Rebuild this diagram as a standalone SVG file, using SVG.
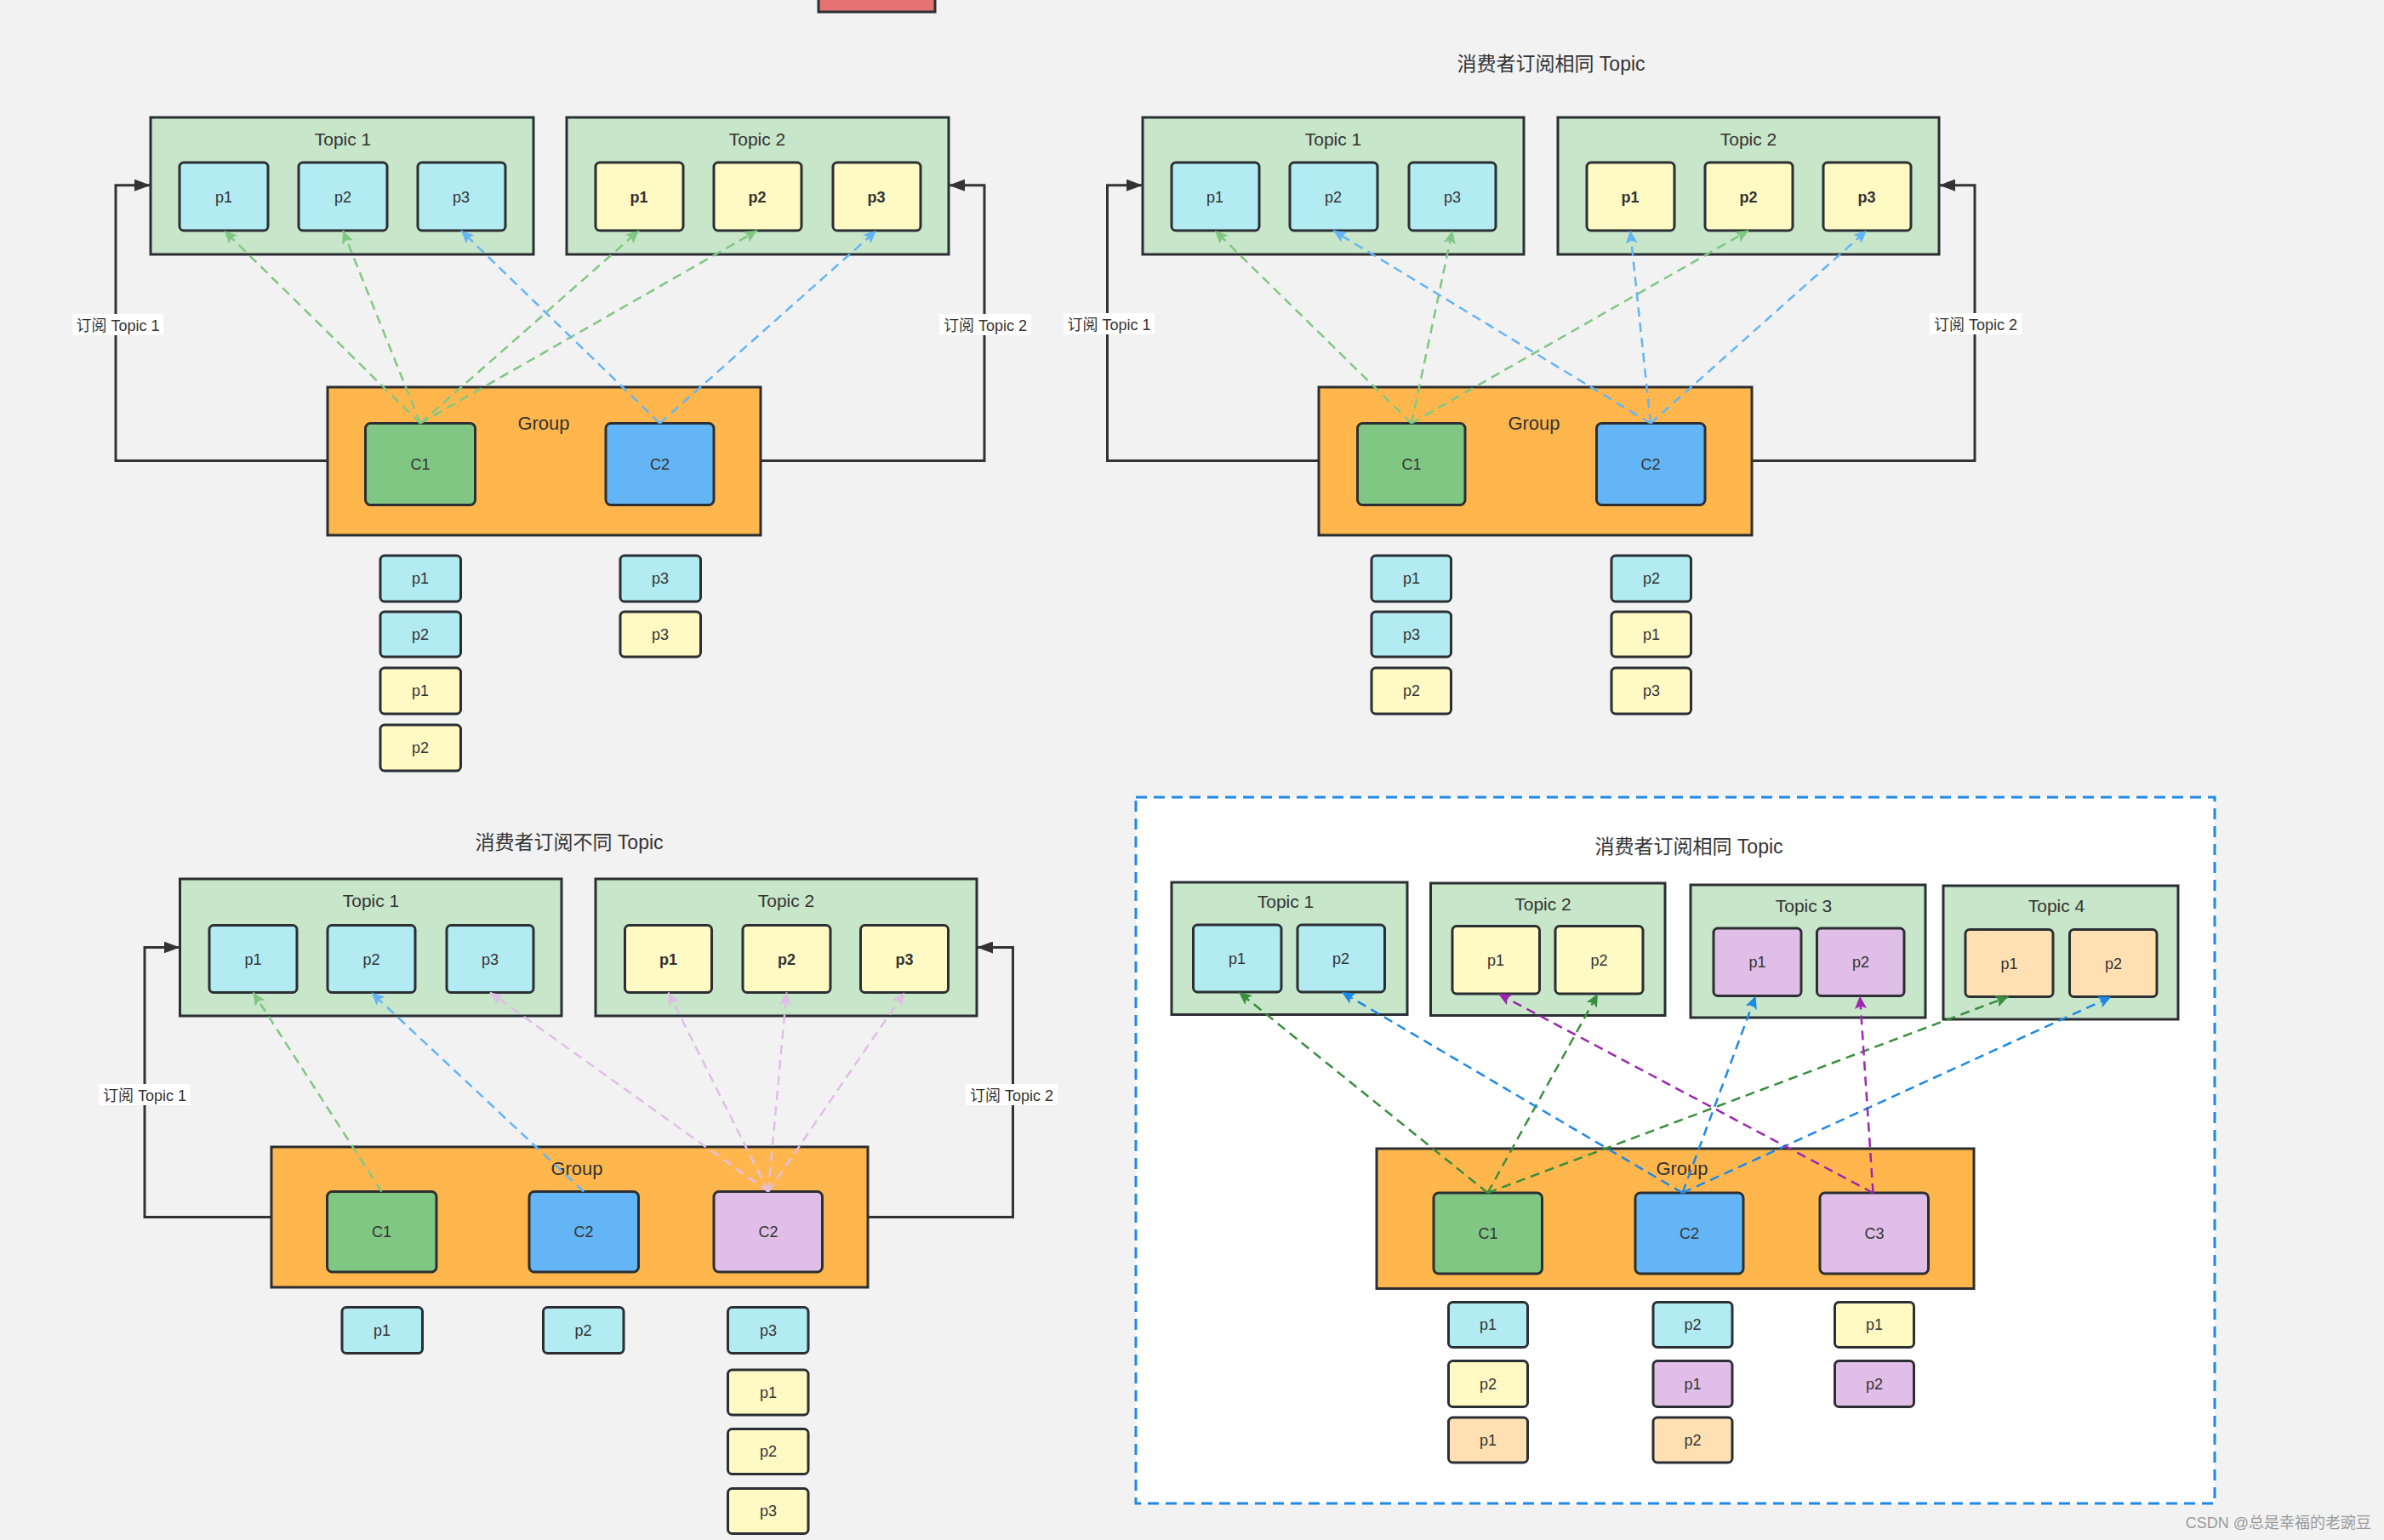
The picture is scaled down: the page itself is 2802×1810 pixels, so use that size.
<svg xmlns="http://www.w3.org/2000/svg" width="2802" height="1810" viewBox="0 0 2802 1810">
<defs>
<style>
text{font-family:"Liberation Sans","Noto Sans CJK SC",sans-serif;fill:#333;text-anchor:middle}
.topic{fill:#c8e6c9;stroke:#2b2f33;stroke-width:3}
.grp{fill:#ffb74d;stroke:#2b2f33;stroke-width:3}
.pb{stroke:#2b2f33;stroke-width:3}
.b{fill:#b2ebf2}.y{fill:#fff9c4}.pu{fill:#e1bee7}.o{fill:#ffe0b2}
.c1{fill:#81c784}.c2{fill:#64b5f6}.c3{fill:#e1bee7}
.tt{font-size:21px}
.pl{font-size:18px}
.pb2{font-size:18px;font-weight:bold}
.gl{font-size:22px}
.cl{font-size:18px}
.title{font-size:23px}
.lab{font-size:18px}
.conn{fill:none;stroke:#333;stroke-width:3}
.d{fill:none;stroke-width:2.5;stroke-dasharray:11 7}
.lg{stroke:#81c784}.lb{stroke:#64b5f6}.lp{stroke:#e1bee7}
.dg{stroke:#388e3c}.db{stroke:#1e88e5}.dp{stroke:#9c27b0}
.lbg{fill:#ffffff}
</style>
<marker id="mk" markerWidth="20" markerHeight="14" refX="19" refY="7" orient="auto" markerUnits="userSpaceOnUse"><path d="M0,0 L19,7 L0,14 z" fill="#333"/></marker>
<marker id="mlg" markerWidth="16" markerHeight="14" refX="15" refY="7" orient="auto" markerUnits="userSpaceOnUse"><path d="M0,0 L15,7 L0,14 L3,7 z" fill="#81c784"/></marker>
<marker id="mlb" markerWidth="16" markerHeight="14" refX="15" refY="7" orient="auto" markerUnits="userSpaceOnUse"><path d="M0,0 L15,7 L0,14 L3,7 z" fill="#64b5f6"/></marker>
<marker id="mlp" markerWidth="16" markerHeight="14" refX="15" refY="7" orient="auto" markerUnits="userSpaceOnUse"><path d="M0,0 L15,7 L0,14 L3,7 z" fill="#e1bee7"/></marker>
<marker id="mdg" markerWidth="16" markerHeight="14" refX="15" refY="7" orient="auto" markerUnits="userSpaceOnUse"><path d="M0,0 L15,7 L0,14 L3,7 z" fill="#388e3c"/></marker>
<marker id="mdb" markerWidth="16" markerHeight="14" refX="15" refY="7" orient="auto" markerUnits="userSpaceOnUse"><path d="M0,0 L15,7 L0,14 L3,7 z" fill="#1e88e5"/></marker>
<marker id="mdp" markerWidth="16" markerHeight="14" refX="15" refY="7" orient="auto" markerUnits="userSpaceOnUse"><path d="M0,0 L15,7 L0,14 L3,7 z" fill="#9c27b0"/></marker>
</defs>
<rect x="0" y="0" width="2802" height="1810" fill="#f2f2f2"/>
<rect id="redbox" x="962" y="-5" width="137" height="19" fill="#e57373" stroke="#2b2f33" stroke-width="3"/>

<!-- Panel 4 frame -->
<rect id="frame4" x="1335" y="937" width="1268" height="830" fill="#ffffff" stroke="#1e88e5" stroke-width="3" stroke-dasharray="13 8"/>

<!-- Titles -->
<text id="title2" class="title" x="1823" y="83">消费者订阅相同 Topic</text>
<text id="title3" class="title" x="669" y="998">消费者订阅不同 Topic</text>
<text id="title4" class="title" x="1985" y="1003">消费者订阅相同 Topic</text>

<!-- ===== Panel 1 ===== -->
<g id="p1-topic1"><rect class="topic" x="177" y="138" width="450" height="161"/><text class="tt" x="403" y="171">Topic 1</text></g>
<g id="p1-topic2"><rect class="topic" x="666" y="138" width="449" height="161"/><text class="tt" x="890" y="171">Topic 2</text></g>
<g id="p1-t1p1"><rect class="pb b" x="211" y="191" width="104" height="80" rx="5"/><text class="pl" x="263" y="238">p1</text></g>
<g id="p1-t1p2"><rect class="pb b" x="351" y="191" width="104" height="80" rx="5"/><text class="pl" x="403" y="238">p2</text></g>
<g id="p1-t1p3"><rect class="pb b" x="491" y="191" width="103" height="80" rx="5"/><text class="pl" x="542" y="238">p3</text></g>
<g id="p1-t2p1"><rect class="pb y" x="700" y="191" width="103" height="80" rx="5"/><text class="pb2" x="751" y="238">p1</text></g>
<g id="p1-t2p2"><rect class="pb y" x="839" y="191" width="103" height="80" rx="5"/><text class="pb2" x="890" y="238">p2</text></g>
<g id="p1-t2p3"><rect class="pb y" x="979" y="191" width="103" height="80" rx="5"/><text class="pb2" x="1030" y="238">p3</text></g>
<g id="p1-group"><rect class="grp" x="385" y="455" width="509" height="174"/><text class="gl" x="639" y="505">Group</text></g>
<g id="p1-c1"><rect class="pb c1" x="429.5" y="497.5" width="129" height="96" rx="6"/><text class="cl" x="494" y="552">C1</text></g>
<g id="p1-c2"><rect class="pb c2" x="712" y="497.5" width="127" height="96" rx="6"/><text class="cl" x="775.5" y="552">C2</text></g>
<g id="p1-a1"><rect class="pb b" x="447" y="653" width="94.5" height="54" rx="5"/><text class="pl" x="494" y="686">p1</text></g>
<g id="p1-a2"><rect class="pb b" x="447" y="719" width="94.5" height="53" rx="5"/><text class="pl" x="494" y="752">p2</text></g>
<g id="p1-a3"><rect class="pb y" x="447" y="785" width="94.5" height="54" rx="5"/><text class="pl" x="494" y="818">p1</text></g>
<g id="p1-a4"><rect class="pb y" x="447" y="852" width="94.5" height="54" rx="5"/><text class="pl" x="494" y="885">p2</text></g>
<g id="p1-b1"><rect class="pb b" x="729" y="653" width="94.5" height="54" rx="5"/><text class="pl" x="776" y="686">p3</text></g>
<g id="p1-b2"><rect class="pb y" x="729" y="719" width="94.5" height="53" rx="5"/><text class="pl" x="776" y="752">p3</text></g>

<!-- ===== Panel 2 ===== -->
<g id="p2-topic1"><rect class="topic" x="1343" y="138" width="448" height="161"/><text class="tt" x="1567" y="171">Topic 1</text></g>
<g id="p2-topic2"><rect class="topic" x="1831" y="138" width="448" height="161"/><text class="tt" x="2055" y="171">Topic 2</text></g>
<g id="p2-t1p1"><rect class="pb b" x="1377" y="191" width="103" height="80" rx="5"/><text class="pl" x="1428" y="238">p1</text></g>
<g id="p2-t1p2"><rect class="pb b" x="1516" y="191" width="103" height="80" rx="5"/><text class="pl" x="1567" y="238">p2</text></g>
<g id="p2-t1p3"><rect class="pb b" x="1656" y="191" width="102" height="80" rx="5"/><text class="pl" x="1707" y="238">p3</text></g>
<g id="p2-t2p1"><rect class="pb y" x="1865" y="191" width="103" height="80" rx="5"/><text class="pb2" x="1916" y="238">p1</text></g>
<g id="p2-t2p2"><rect class="pb y" x="2004" y="191" width="103" height="80" rx="5"/><text class="pb2" x="2055" y="238">p2</text></g>
<g id="p2-t2p3"><rect class="pb y" x="2143" y="191" width="103" height="80" rx="5"/><text class="pb2" x="2194" y="238">p3</text></g>
<g id="p2-group"><rect class="grp" x="1550" y="455" width="509" height="174"/><text class="gl" x="1803" y="505">Group</text></g>
<g id="p2-c1"><rect class="pb c1" x="1595.5" y="497.5" width="126.5" height="96" rx="6"/><text class="cl" x="1659" y="552">C1</text></g>
<g id="p2-c2"><rect class="pb c2" x="1876.5" y="497.5" width="127.5" height="96" rx="6"/><text class="cl" x="1940" y="552">C2</text></g>
<g id="p2-a1"><rect class="pb b" x="1612" y="653" width="93.5" height="54" rx="5"/><text class="pl" x="1659" y="686">p1</text></g>
<g id="p2-a2"><rect class="pb b" x="1612" y="719" width="93.5" height="53" rx="5"/><text class="pl" x="1659" y="752">p3</text></g>
<g id="p2-a3"><rect class="pb y" x="1612" y="785" width="93.5" height="54" rx="5"/><text class="pl" x="1659" y="818">p2</text></g>
<g id="p2-b1"><rect class="pb b" x="1894" y="653" width="93.5" height="54" rx="5"/><text class="pl" x="1941" y="686">p2</text></g>
<g id="p2-b2"><rect class="pb y" x="1894" y="719" width="93.5" height="53" rx="5"/><text class="pl" x="1941" y="752">p1</text></g>
<g id="p2-b3"><rect class="pb y" x="1894" y="785" width="93.5" height="54" rx="5"/><text class="pl" x="1941" y="818">p3</text></g>

<!-- ===== Panel 3 ===== -->
<g id="p3-topic1"><rect class="topic" x="211.5" y="1033" width="448.5" height="161"/><text class="tt" x="436" y="1066">Topic 1</text></g>
<g id="p3-topic2"><rect class="topic" x="700" y="1033" width="448" height="161"/><text class="tt" x="924" y="1066">Topic 2</text></g>
<g id="p3-t1p1"><rect class="pb b" x="246" y="1087.5" width="103" height="79" rx="5"/><text class="pl" x="297.5" y="1133.5">p1</text></g>
<g id="p3-t1p2"><rect class="pb b" x="385" y="1087.5" width="103" height="79" rx="5"/><text class="pl" x="436.5" y="1133.5">p2</text></g>
<g id="p3-t1p3"><rect class="pb b" x="525" y="1087.5" width="102" height="79" rx="5"/><text class="pl" x="576" y="1133.5">p3</text></g>
<g id="p3-t2p1"><rect class="pb y" x="734.5" y="1087.5" width="102" height="79" rx="5"/><text class="pb2" x="785.5" y="1133.5">p1</text></g>
<g id="p3-t2p2"><rect class="pb y" x="873" y="1087.5" width="103" height="79" rx="5"/><text class="pb2" x="924.5" y="1133.5">p2</text></g>
<g id="p3-t2p3"><rect class="pb y" x="1011.5" y="1087.5" width="103" height="79" rx="5"/><text class="pb2" x="1063" y="1133.5">p3</text></g>
<g id="p3-group"><rect class="grp" x="319" y="1348" width="701" height="165"/><text class="gl" x="678" y="1381">Group</text></g>
<g id="p3-c1"><rect class="pb c1" x="384.5" y="1400.5" width="128.5" height="94.5" rx="6"/><text class="cl" x="448.5" y="1454">C1</text></g>
<g id="p3-c2"><rect class="pb c2" x="622" y="1400.5" width="128.5" height="94.5" rx="6"/><text class="cl" x="686" y="1454">C2</text></g>
<g id="p3-c3"><rect class="pb c3" x="839" y="1400.5" width="127.5" height="94.5" rx="6"/><text class="cl" x="903" y="1454">C2</text></g>
<g id="p3-a1"><rect class="pb b" x="402" y="1536.5" width="94.5" height="54" rx="5"/><text class="pl" x="449" y="1569.5">p1</text></g>
<g id="p3-b1"><rect class="pb b" x="638.5" y="1536.5" width="94.5" height="54" rx="5"/><text class="pl" x="685.5" y="1569.5">p2</text></g>
<g id="p3-c1b"><rect class="pb b" x="855.5" y="1536.5" width="94.5" height="54" rx="5"/><text class="pl" x="903" y="1569.5">p3</text></g>
<g id="p3-c2b"><rect class="pb y" x="855.5" y="1610" width="94.5" height="53" rx="5"/><text class="pl" x="903" y="1642.5">p1</text></g>
<g id="p3-c3b"><rect class="pb y" x="855.5" y="1679.5" width="94.5" height="53" rx="5"/><text class="pl" x="903" y="1712">p2</text></g>
<g id="p3-c4b"><rect class="pb y" x="855.5" y="1749.5" width="94.5" height="53" rx="5"/><text class="pl" x="903" y="1782">p3</text></g>

<!-- ===== Panel 4 ===== -->
<g id="p4-topic1"><rect class="topic" x="1377" y="1037" width="277" height="155.5"/><text class="tt" x="1511" y="1067">Topic 1</text></g>
<g id="p4-topic2"><rect class="topic" x="1681.5" y="1038" width="275.5" height="155.5"/><text class="tt" x="1813.5" y="1069.5">Topic 2</text></g>
<g id="p4-topic3"><rect class="topic" x="1987" y="1040" width="276" height="156"/><text class="tt" x="2120" y="1072">Topic 3</text></g>
<g id="p4-topic4"><rect class="topic" x="2284" y="1041" width="276" height="157"/><text class="tt" x="2417" y="1072">Topic 4</text></g>
<g id="p4-t1p1"><rect class="pb b" x="1402.5" y="1087" width="103.5" height="79" rx="5"/><text class="pl" x="1454" y="1133">p1</text></g>
<g id="p4-t1p2"><rect class="pb b" x="1525" y="1087" width="102.5" height="79" rx="5"/><text class="pl" x="1576" y="1133">p2</text></g>
<g id="p4-t2p1"><rect class="pb y" x="1707" y="1088.5" width="102.5" height="79.5" rx="5"/><text class="pl" x="1758" y="1135">p1</text></g>
<g id="p4-t2p2"><rect class="pb y" x="1828" y="1088.5" width="103" height="79.5" rx="5"/><text class="pl" x="1879.5" y="1135">p2</text></g>
<g id="p4-t3p1"><rect class="pb pu" x="2014" y="1091" width="103" height="79.5" rx="5"/><text class="pl" x="2065.5" y="1137">p1</text></g>
<g id="p4-t3p2"><rect class="pb pu" x="2135.5" y="1091" width="102.5" height="79.5" rx="5"/><text class="pl" x="2187" y="1137">p2</text></g>
<g id="p4-t4p1"><rect class="pb o" x="2310" y="1092.5" width="103" height="79" rx="5"/><text class="pl" x="2361.5" y="1138.5">p1</text></g>
<g id="p4-t4p2"><rect class="pb o" x="2432.5" y="1092.5" width="102.5" height="79" rx="5"/><text class="pl" x="2484" y="1138.5">p2</text></g>
<g id="p4-group"><rect class="grp" x="1618" y="1350" width="702" height="164.5"/><text class="gl" x="1977" y="1381">Group</text></g>
<g id="p4-c1"><rect class="pb c1" x="1685" y="1402" width="127.5" height="95" rx="6"/><text class="cl" x="1749" y="1456">C1</text></g>
<g id="p4-c2"><rect class="pb c2" x="1922" y="1402" width="127" height="95" rx="6"/><text class="cl" x="1985.5" y="1456">C2</text></g>
<g id="p4-c3"><rect class="pb c3" x="2139" y="1402" width="127.5" height="95" rx="6"/><text class="cl" x="2203" y="1456">C3</text></g>
<g id="p4-a1"><rect class="pb b" x="1702.5" y="1530.5" width="93" height="53" rx="5"/><text class="pl" x="1749" y="1563">p1</text></g>
<g id="p4-a2"><rect class="pb y" x="1702.5" y="1599.5" width="93" height="54" rx="5"/><text class="pl" x="1749" y="1632.5">p2</text></g>
<g id="p4-a3"><rect class="pb o" x="1702.5" y="1666" width="93" height="53" rx="5"/><text class="pl" x="1749" y="1698.5">p1</text></g>
<g id="p4-b1"><rect class="pb b" x="1943" y="1530.5" width="93" height="53" rx="5"/><text class="pl" x="1989.5" y="1563">p2</text></g>
<g id="p4-b2"><rect class="pb pu" x="1943" y="1599.5" width="93" height="54" rx="5"/><text class="pl" x="1989.5" y="1632.5">p1</text></g>
<g id="p4-b3"><rect class="pb o" x="1943" y="1666" width="93" height="53" rx="5"/><text class="pl" x="1989.5" y="1698.5">p2</text></g>
<g id="p4-c1b"><rect class="pb y" x="2156.5" y="1530.5" width="93" height="53" rx="5"/><text class="pl" x="2203" y="1563">p1</text></g>
<g id="p4-c2b"><rect class="pb pu" x="2156.5" y="1599.5" width="93" height="54" rx="5"/><text class="pl" x="2203" y="1632.5">p2</text></g>

<!-- ===== Connectors ===== -->
<g id="connectors">
<path class="conn" d="M385,541.5 H136 V217.7 H177" marker-end="url(#mk)"/>
<path class="conn" d="M894,541.5 H1157 V217.7 H1115" marker-end="url(#mk)"/>
<path class="conn" d="M1550,541.5 H1301.5 V217.7 H1343" marker-end="url(#mk)"/>
<path class="conn" d="M2059,541.5 H2321 V217.7 H2279" marker-end="url(#mk)"/>
<path class="conn" d="M319,1430.5 H170 V1113.5 H211.5" marker-end="url(#mk)"/>
<path class="conn" d="M1020,1430.5 H1190.5 V1113.5 H1148" marker-end="url(#mk)"/>

<path class="d lg" d="M494,497.5 L263.5,271" marker-end="url(#mlg)"/>
<path class="d lg" d="M494,497.5 L403,271" marker-end="url(#mlg)"/>
<path class="d lg" d="M494,497.5 L751,271" marker-end="url(#mlg)"/>
<path class="d lg" d="M494,497.5 L890,271" marker-end="url(#mlg)"/>
<path class="d lb" d="M775.5,497.5 L542,271" marker-end="url(#mlb)"/>
<path class="d lb" d="M775.5,497.5 L1030,271" marker-end="url(#mlb)"/>

<path class="d lg" d="M1659,497.5 L1428,271" marker-end="url(#mlg)"/>
<path class="d lg" d="M1659,497.5 L1707,271" marker-end="url(#mlg)"/>
<path class="d lg" d="M1659,497.5 L2055,271" marker-end="url(#mlg)"/>
<path class="d lb" d="M1940,497.5 L1567,271" marker-end="url(#mlb)"/>
<path class="d lb" d="M1940,497.5 L1916,271" marker-end="url(#mlb)"/>
<path class="d lb" d="M1940,497.5 L2194,271" marker-end="url(#mlb)"/>

<path class="d lg" d="M448.5,1400.5 L297.5,1166.5" marker-end="url(#mlg)"/>
<path class="d lb" d="M686,1400.5 L436.5,1166.5" marker-end="url(#mlb)"/>
<path class="d lp" d="M903,1400.5 L576,1166.5" marker-end="url(#mlp)"/>
<path class="d lp" d="M903,1400.5 L785.5,1166.5" marker-end="url(#mlp)"/>
<path class="d lp" d="M903,1400.5 L924.5,1166.5" marker-end="url(#mlp)"/>
<path class="d lp" d="M903,1400.5 L1063,1166.5" marker-end="url(#mlp)"/>

<path class="d dg" d="M1748.5,1402 L1456,1166" marker-end="url(#mdg)"/>
<path class="d dg" d="M1748.5,1402 L1878,1168" marker-end="url(#mdg)"/>
<path class="d dg" d="M1748.5,1402 L2360.5,1171.5" marker-end="url(#mdg)"/>
<path class="d db" d="M1977.5,1402 L1577,1166" marker-end="url(#mdb)"/>
<path class="d db" d="M1977.5,1402 L2063.5,1170.5" marker-end="url(#mdb)"/>
<path class="d db" d="M1977.5,1402 L2481.5,1171.5" marker-end="url(#mdb)"/>
<path class="d dp" d="M2201.5,1402 L1761,1168" marker-end="url(#mdp)"/>
<path class="d dp" d="M2201.5,1402 L2186,1170.5" marker-end="url(#mdp)"/>

<g id="lab1"><rect class="lbg" x="85" y="369" width="107" height="25"/><text class="lab" x="138.5" y="388.5">订阅 Topic 1</text></g>
<g id="lab2"><rect class="lbg" x="1104" y="369" width="108" height="25"/><text class="lab" x="1158" y="388.5">订阅 Topic 2</text></g>
<g id="lab3"><rect class="lbg" x="1250" y="368" width="107" height="25"/><text class="lab" x="1303.5" y="387.5">订阅 Topic 1</text></g>
<g id="lab4"><rect class="lbg" x="2268" y="368" width="108" height="25"/><text class="lab" x="2322" y="387.5">订阅 Topic 2</text></g>
<g id="lab5"><rect class="lbg" x="116.5" y="1274" width="107" height="25"/><text class="lab" x="170" y="1293.5">订阅 Topic 1</text></g>
<g id="lab6"><rect class="lbg" x="1135" y="1274" width="108" height="25"/><text class="lab" x="1189" y="1293.5">订阅 Topic 2</text></g>
</g>

<text id="watermark" x="2787" y="1796" style="font-size:18px;fill:#9a9a9a;text-anchor:end">CSDN @总是幸福的老豌豆</text>
</svg>
